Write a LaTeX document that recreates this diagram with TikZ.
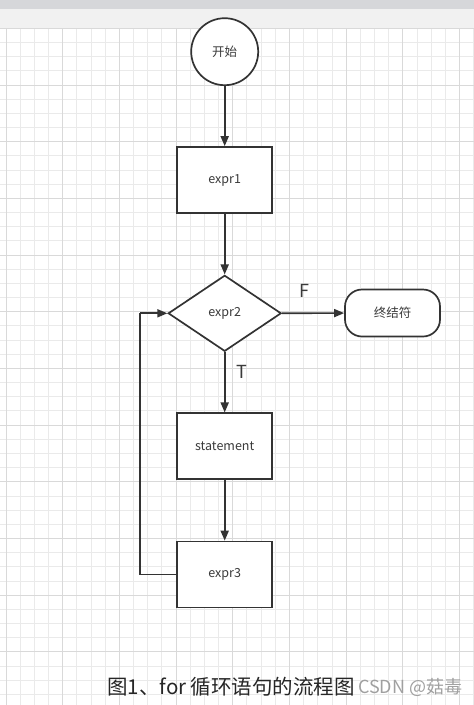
\documentclass[tikz,border=0pt]{standalone}
\usepackage{fontspec}
\setmainfont{Noto Sans CJK SC}
\usetikzlibrary{shapes.geometric,arrows.meta}
\definecolor{ln}{HTML}{333333}
\definecolor{txt}{HTML}{3A3A3A}
\definecolor{gridminor}{HTML}{EAEAEA}
\definecolor{gridmajor}{HTML}{D9D9D9}
\definecolor{bandA}{HTML}{D6D7DA}
\definecolor{bandB}{HTML}{F1F1F1}
\definecolor{wm}{HTML}{A0A0A0}
\tikzset{
  base/.style={draw=ln, line width=1.7pt, fill=white, text=txt, font=\fontsize{12.5}{14}\selectfont, inner sep=0pt},
  startnode/.style={base, circle, minimum size=67pt},
  procbox/.style={base, rectangle, minimum width=95pt, minimum height=66pt},
  decide/.style={base, diamond, minimum width=113pt, minimum height=76pt},
  terminal/.style={base, rectangle, rounded corners=17pt, minimum width=95pt, minimum height=47pt},
  conn/.style={draw=ln, line width=1.7pt, -{Triangle[length=10pt,width=8pt]}},
  plainconn/.style={draw=ln, line width=1.7pt},
  lbl/.style={text=txt, font=\fontsize{18}{20}\selectfont, inner sep=0pt},
}
\begin{document}
\begin{tikzpicture}[x=1pt,y=-1pt]
\useasboundingbox (0,0) rectangle (474,705);
\fill[white] (0,0) rectangle (474,705);
\fill[bandA] (0,0) rectangle (474,9);
\fill[bandB] (0,9) rectangle (474,28);
% grid
\foreach \k in {0,...,33}{
  \pgfmathsetmacro\xx{6.0+\k*14.17}
  \draw[gridminor, line width=0.8pt] (\xx,28) -- (\xx,705);
}
\foreach \k in {0,...,47}{
  \pgfmathsetmacro\yy{28.3+\k*14.17}
  \draw[gridminor, line width=0.8pt] (0,\yy) -- (474,\yy);
}
\foreach \k in {0,4,...,32}{
  \pgfmathsetmacro\xx{6.0+\k*14.17}
  \draw[gridmajor, line width=0.9pt] (\xx,28) -- (\xx,705);
}
\foreach \k in {0,4,...,44}{
  \pgfmathsetmacro\yy{28.3+\k*14.17}
  \draw[gridmajor, line width=0.9pt] (0,\yy) -- (474,\yy);
}
% nodes
\node[startnode] (start) at (224.7,51.7) {开始};
\node[procbox] (e1) at (224.7,180) {expr1};
\node[decide] (e2) at (224.7,313.3) {expr2};
\node[terminal] (end) at (392.5,313) {终结符};
\node[procbox] (st) at (224.7,446.3) {statement};
\node[procbox] (e3) at (224.7,574.5) {expr3};
\coordinate (lb) at (140,574.5);
\coordinate (lt) at (140,313.3);
% connectors
\draw[conn] (start) -- (e1);
\draw[conn] (e1) -- (e2);
\draw[conn] (e2) -- (st);
\draw[conn] (st) -- (e3);
\draw[conn] (e2) -- (end);
\draw[plainconn] (e3.west) -- (lb) -- (lt);
\draw[conn] (lt) -- (e2.west);
% labels
\node[lbl] (F) at (304,290.7) {F};
\node[lbl] (T) at (241.7,371.7) {T};
% caption
\node[anchor=west, text=wm, inner sep=0pt, font=\fontsize{18}{20}\selectfont] (wmk) at (358,687) {CSDN @菇毒};
\node[anchor=west, text=black!85, inner sep=0pt, font=\fontsize{20.5}{22}\selectfont] (cap) at (107,686.5) {图1、for 循环语句的流程图};
\end{tikzpicture}
\end{document}
